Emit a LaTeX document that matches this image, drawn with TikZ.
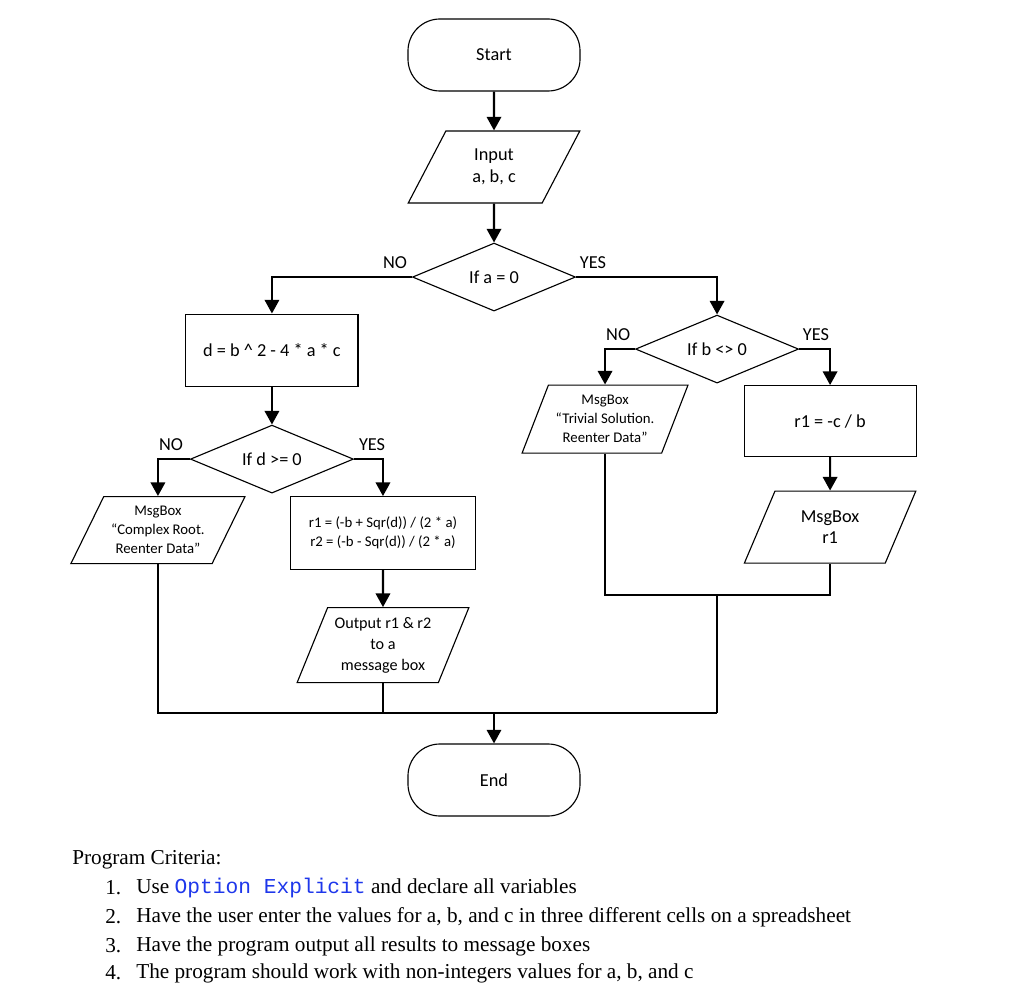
\documentclass[tikz,border=0pt]{standalone}
\usepackage{fontspec}
\setmainfont{Liberation Serif}
\setmonofont{Liberation Mono}
\newfontfamily\chartfont{Carlito}
\usepackage{xcolor}
\usepackage{tikz}
\usetikzlibrary{arrows.meta}
\usetikzlibrary{positioning}
\usetikzlibrary{shapes.geometric}
\definecolor{codeblue}{RGB}{30,55,235}
\newcommand{\bigtxt}{\chartfont\fontsize{13}{15.6}\selectfont}
\newcommand{\smalltxt}{\chartfont\fontsize{10.5}{13.6}\selectfont}
\tikzstyle{term} = [draw, rectangle, rounded corners=0.8cm, line width=0.8pt, minimum width=4.3cm, minimum height=1.8cm, font=\bigtxt]
\tikzstyle{io} = [draw, trapezium, trapezium left angle=65, trapezium right angle=115, trapezium stretches=true, line width=0.8pt, align=center, minimum width=4.3cm, minimum height=1.8cm, inner sep=1pt, font=\bigtxt]
\tikzstyle{process} = [draw, rectangle, line width=0.8pt, align=center, minimum width=4.3cm, minimum height=1.8cm, font=\bigtxt]
\tikzstyle{decision} = [draw, diamond, shape aspect=2.4, line width=0.8pt, minimum width=4.075cm, minimum height=1.7cm, inner sep=1pt, font=\bigtxt]
\tikzstyle{lbl} = [font=\bigtxt]
\tikzstyle{crit} = [font=\fontsize{15.1}{18}\selectfont, inner sep=0pt]
\tikzstyle{arrow} = [line width=1.5pt, -{Triangle[width=0.36cm,length=0.34cm]}]
\tikzstyle{line} = [line width=1.5pt]

\begin{document}
\begin{tikzpicture}[x=0.025cm, y=-0.025cm, on grid]
\useasboundingbox (0,0) rectangle (1024,990);
% flowchart
\node[term] (start) at (494,55) {Start};
\node[io, below=2.8cm of start] (input) {Input\\a, b, c};
\node[decision, below=2.75cm of input] (ifa) {If a = 0};
\node[process, below left=1.825cm and 5.55cm of ifa] (calcd) {d = b \textasciicircum{} 2 - 4 * a * c};
\node[decision, below right=1.8cm and 5.575cm of ifa] (ifb) {If b <> 0};
\node[decision, below=2.725cm of calcd] (ifd) {If d >= 0};
\node[io, trapezium left angle=60, trapezium right angle=120, minimum width=4.35cm, minimum height=1.675cm, font=\smalltxt, below left=1.775cm and 2.85cm of ifd] (complex) {MsgBox\\“Complex Root.\\Reenter Data”};
\node[process, minimum width=4.625cm, minimum height=1.825cm, font=\smalltxt, below right=1.85cm and 2.775cm of ifd] (roots) {r1 = (-b + Sqr(d)) / (2 * a)\\r2 = (-b - Sqr(d)) / (2 * a)};
\node[io, minimum height=1.875cm, font=\chartfont\fontsize{11.5}{15}\selectfont, below=2.8cm of roots] (output) {Output r1 \& r2\\to a\\message box};
\node[io, minimum width=4.15cm, minimum height=1.7cm, font=\smalltxt, below left=1.75cm and 2.8cm of ifb] (trivial) {MsgBox\\“Trivial Solution.\\Reenter Data”};
\node[process, minimum height=1.775cm, below right=1.8cm and 2.825cm of ifb] (rone) {r1 = -c / b};
\node[io, below=2.65cm of rone] (msgr) {MsgBox\\r1};
\node[term] (end) at (494,780) {End};

\node[lbl, above left=0.35cm and 0.42cm of ifa.west, anchor=center] {NO};
\node[lbl, above right=0.35cm and 0.42cm of ifa.east, anchor=center] {YES};
\node[lbl, above left=0.35cm and 0.42cm of ifb.west, anchor=center] {NO};
\node[lbl, above right=0.35cm and 0.42cm of ifb.east, anchor=center] {YES};
\node[lbl, above left=0.35cm and 0.47cm of ifd.west, anchor=center] {NO};
\node[lbl, above right=0.35cm and 0.45cm of ifd.east, anchor=center] {YES};

\coordinate (j1) at (717,595);
\coordinate (j2) at (717,713);
\coordinate (m) at (494,713);

\draw[arrow] (start) -- (input);
\draw[arrow] (input) -- (ifa);
\draw[arrow] (ifa.west) -| (calcd.north);
\draw[arrow] (ifa.east) -| (ifb.north);
\draw[arrow] (calcd) -- (ifd);
\draw[arrow] (ifd.west) -| (complex.north);
\draw[arrow] (ifd.east) -| (roots.north);
\draw[arrow] (roots) -- (output);
\draw[arrow] (ifb.west) -| (trivial.north);
\draw[arrow] (ifb.east) -| (rone.north);
\draw[arrow] (rone) -- (msgr);
\draw[line] (trivial.south) |- (j1) -| (msgr.south);
\draw[line] (j1) -- (j2);
\draw[line] (complex.south) |- (j2);
\draw[line] (output.south) -- (output.south |- j2);
\draw[arrow] (m) -- (end);

% criteria
\node[crit, anchor=west] (crit) at (72,860) {Program Criteria:};
\node[crit, anchor=west] (n1) at (105,888) {1.};
\node[crit, anchor=west] (c1) at (136,888) {Use \textcolor{codeblue}{\texttt{Option Explicit}} and declare all variables};
\foreach \n/\y/\t in {2/917/{Have the user enter the values for a, b, and c in three different cells on a spreadsheet},
                     3/946/{Have the program output all results to message boxes},
                     4/973/{The program should work with non-integers values for a, b, and c}}
{
\node[crit, anchor=west] (n\n) at (105,\y) {\n.};
\node[crit, anchor=west] (c\n) at (136,\y) {\t};
}
\end{tikzpicture}
\end{document}
